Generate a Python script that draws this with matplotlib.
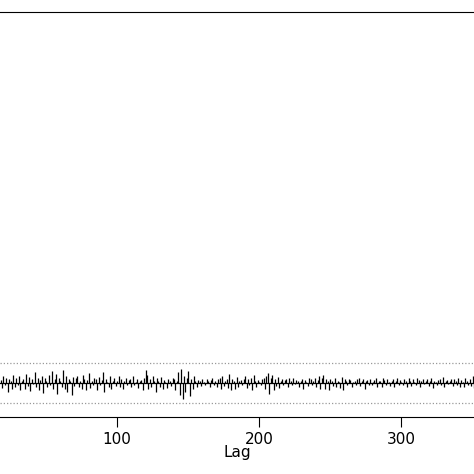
import numpy as np
import matplotlib.pyplot as plt

# ACF values (x0.001), lags 18..
acf_milli = [
    5, -8, 12, -4, 9, -15, 6, 3, -10, 14, -6, 8, -3, 11, -12, 4, 7, -9, 15, -5,
    10, -13, 6, -2, 18, -7, 9, -11, 5, 12, -16, 8, 3, -6, 13, -4, 20, -10, 7, 15,
    -18, 9, 4, -7, 22, -9, 11, -14, 6, 3, -20, 10, -5, 8, 12, -6, 4, -9, 14, 7,
    -11, 5, 16, -8, 3, -4, 9, 6, -12, 10, -3, 5, 18, -14, 7, 2, -6, 11, -9, 4,
    8, -5, 3, 12, -7, 6, -10, 4, 9, -3, 5, 7, -6, 11, -4, 2, 6, -8, 3, 5,
    -12, 9, 22, 14, -10, 6, -7, 12, 4, -15, 8, 3, -6, 10, -9, 5, 2, -8, 6, 4,
    -5, 9, 7, -11, 3, 18, -20, 24, -26, 12, -14, 8, 20, -22, 6, -9, 11, 4, -7, 5,
    3, -5, 6, 2, -4, 7, 3, -6, 5, 8, -3, 4, -7, 6, 9, -10, 12, -5, 3, 7,
    -8, 15, -12, 6, 4, -9, 10, -6, 3, 5, -4, 7, 11, -8, 6, -3, 9, -12, 14, 4,
    -7, 5, 2, -4, 6, 8, -10, 12, 16, -18, 9, 14, -12, 7, -5, 10, -8, 4, 6, -3,
    5, 7, -6, 9, 3, -4, 8, -2, 5, 4, -6, 3, 7, -9, 5, 2, -5, 8, 6, -4,
    3, 9, -7, 5, 12, -10, 8, 14, -9, 6, 4, -11, 7, 3, -5, 9, -6, 4, 2, -8,
    10, -12, 6, 3, -4, 7, 5, -6, 2, 4, -3, 6, 8, -5, 3, 7, -9, 4, 5, -3,
    6, -4, 2, 5, 8, -6, 3, 4, -7, 9, 5, -3, 6, 2, -5, 4, 7, -6, 3, 8,
    -4, 5, 2, -3, 6, 4, -7, 9, 3, -5, 6, 2, -4, 8, 5, -6, 3, 7, -2, 4,
    6, -5, 3, 9, -8, 4, 2, -3, 5, 7, -4, 10, -6, 3, 5, -2, 4, 6, -5, 7,
    3, -4, 8, -6, 5, 2, -7, 9, 4, -3, 6, -5, 11, -8, 4, 3, -6, 7, 5, -4,
]
lags = np.arange(18, 18 + len(acf_milli))
acf = np.array(acf_milli) * 1.5 / 1000.0
ci = 0.05

fig = plt.figure(figsize=(4.74, 4.74), dpi=100)
ax = fig.add_axes([0.0, 0.12, 1.0, 0.855])

ax.vlines(lags, 0, acf, color="black", linewidth=0.9)
ax.axhline(0, color="black", linewidth=0.9)
for y in (ci, -ci):
    ax.axhline(y, color="#999999", linewidth=0.9, linestyle=(0, (1, 1.6)))

ax.set_xlim(17.6, 351)
ax.set_ylim(-0.085, 0.9275)
ax.spines["left"].set_visible(False)
ax.spines["right"].set_visible(False)
ax.set_yticks([])
ax.set_xticks([100, 200, 300])
ax.tick_params(axis="x", length=7, labelsize=11, pad=4)
ax.set_xlabel("Lag", fontsize=11, labelpad=-2)

fig.savefig("out.png", dpi=100)
